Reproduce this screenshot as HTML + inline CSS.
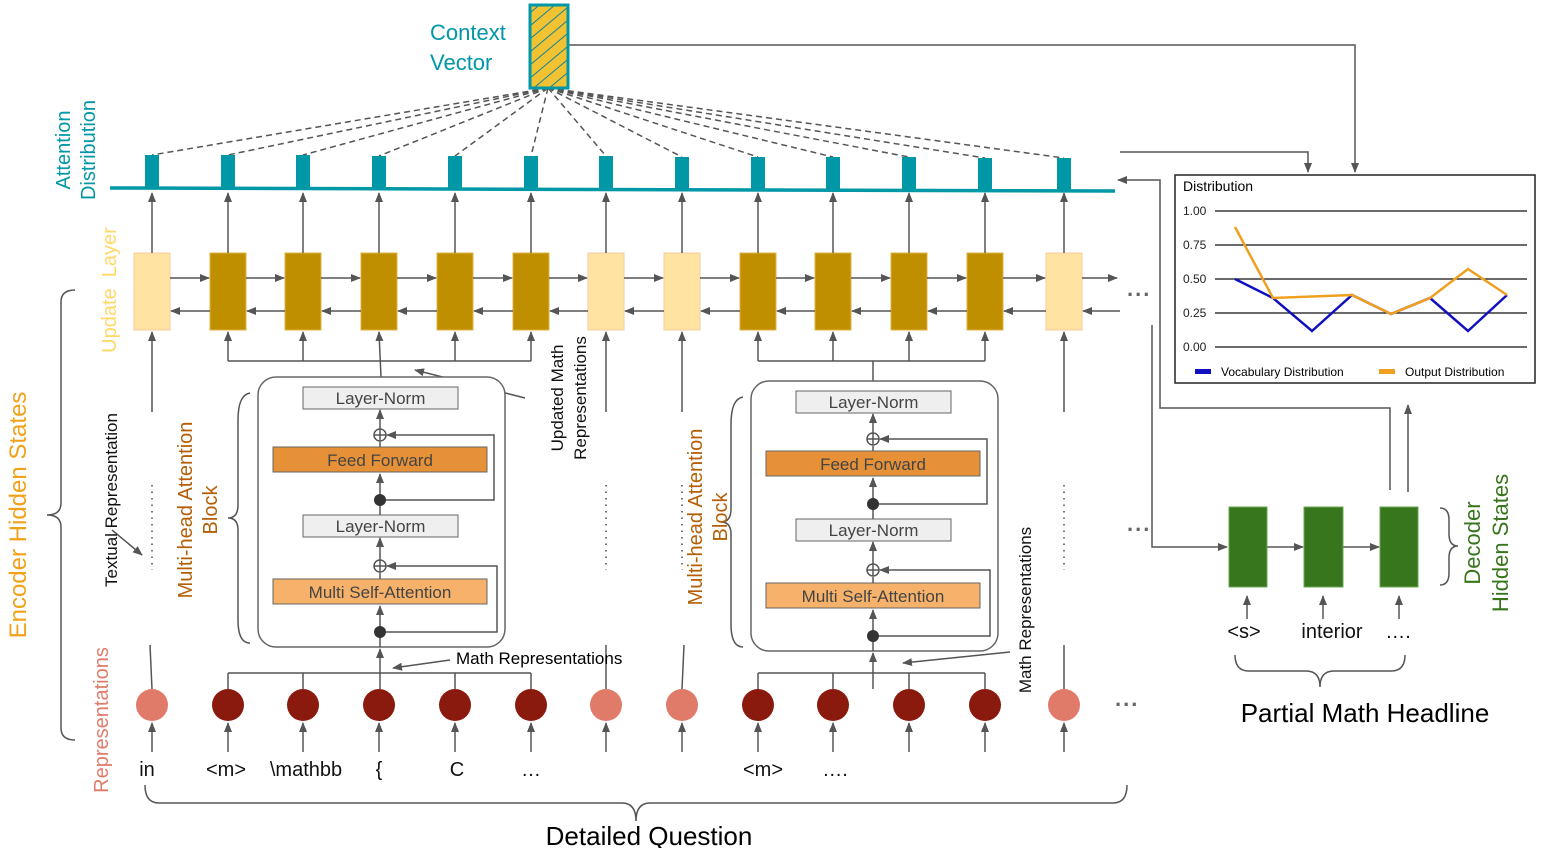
<!DOCTYPE html>
<html><head><meta charset="utf-8"><style>
html,body{margin:0;padding:0;background:#fff}
svg{display:block;font-family:"Liberation Sans",sans-serif}
</style></head><body>
<svg width="1544" height="848" viewBox="0 0 1544 848" xmlns="http://www.w3.org/2000/svg">
<defs>
<marker id="a" markerWidth="10" markerHeight="10" refX="9" refY="5" orient="auto" markerUnits="userSpaceOnUse"><path d="M0,1 L10,5 L0,9 z" fill="#555"/></marker>
<pattern id="h" width="10" height="10" patternUnits="userSpaceOnUse" patternTransform="rotate(-40)"><rect width="10" height="10" fill="#F1C232"/><line x1="0" y1="0" x2="10" y2="0" stroke="#138496" stroke-width="2"/></pattern>
</defs>
<!-- dashed -->
<g stroke="#555" stroke-width="1.5" stroke-dasharray="6,4">
<line x1="548" y1="88" x2="152" y2="155"/><line x1="548" y1="88" x2="228" y2="155"/><line x1="548" y1="88" x2="303" y2="155"/><line x1="548" y1="88" x2="379" y2="156"/><line x1="548" y1="88" x2="455" y2="156"/><line x1="548" y1="88" x2="531" y2="156"/><line x1="548" y1="88" x2="606" y2="156"/><line x1="548" y1="88" x2="682" y2="157"/><line x1="548" y1="88" x2="758" y2="157"/><line x1="548" y1="88" x2="833" y2="157"/><line x1="548" y1="88" x2="909" y2="157"/><line x1="548" y1="88" x2="985" y2="158"/><line x1="548" y1="88" x2="1064" y2="158"/>
</g>
<!-- attention bars -->
<g fill="#0097A7">
<rect x="145" y="155" width="14" height="34"/><rect x="221" y="155" width="14" height="34"/><rect x="296" y="155" width="14" height="34"/><rect x="372" y="156" width="14" height="33"/><rect x="448" y="156" width="14" height="33"/><rect x="524" y="156" width="14" height="33"/><rect x="599" y="156" width="14" height="34"/><rect x="675" y="157" width="14" height="33"/><rect x="751" y="157" width="14" height="33"/><rect x="826" y="157" width="14" height="33"/><rect x="902" y="157" width="14" height="33"/><rect x="978" y="158" width="14" height="33"/><rect x="1057" y="158" width="14" height="33"/>
</g>
<line x1="110" y1="188" x2="1115" y2="191" stroke="#0097A7" stroke-width="3.5"/>
<!-- update boxes -->
<g stroke-width="1">
<rect x="134" y="253" width="36" height="77" fill="#FFE3A3" stroke="#F9CB9C"/>
<rect x="210" y="253" width="36" height="77" fill="#BF8F00" stroke="#E0B040"/>
<rect x="285" y="253" width="36" height="77" fill="#BF8F00" stroke="#E0B040"/>
<rect x="361" y="253" width="36" height="77" fill="#BF8F00" stroke="#E0B040"/>
<rect x="437" y="253" width="36" height="77" fill="#BF8F00" stroke="#E0B040"/>
<rect x="513" y="253" width="36" height="77" fill="#BF8F00" stroke="#E0B040"/>
<rect x="588" y="253" width="36" height="77" fill="#FFE3A3" stroke="#F9CB9C"/>
<rect x="664" y="253" width="36" height="77" fill="#FFE3A3" stroke="#F9CB9C"/>
<rect x="740" y="253" width="36" height="77" fill="#BF8F00" stroke="#E0B040"/>
<rect x="815" y="253" width="36" height="77" fill="#BF8F00" stroke="#E0B040"/>
<rect x="891" y="253" width="36" height="77" fill="#BF8F00" stroke="#E0B040"/>
<rect x="967" y="253" width="36" height="77" fill="#BF8F00" stroke="#E0B040"/>
<rect x="1046" y="253" width="36" height="77" fill="#FFE3A3" stroke="#F9CB9C"/>
</g>
<!-- circles -->
<g>
<circle cx="152" cy="705" r="16" fill="#E07B6A"/><circle cx="228" cy="705" r="16" fill="#8B1A0E"/><circle cx="303" cy="705" r="16" fill="#8B1A0E"/><circle cx="379" cy="705" r="16" fill="#8B1A0E"/><circle cx="455" cy="705" r="16" fill="#8B1A0E"/><circle cx="531" cy="705" r="16" fill="#8B1A0E"/><circle cx="606" cy="705" r="16" fill="#E07B6A"/><circle cx="682" cy="705" r="16" fill="#E07B6A"/><circle cx="758" cy="705" r="16" fill="#8B1A0E"/><circle cx="833" cy="705" r="16" fill="#8B1A0E"/><circle cx="909" cy="705" r="16" fill="#8B1A0E"/><circle cx="985" cy="705" r="16" fill="#8B1A0E"/><circle cx="1064" cy="705" r="16" fill="#E07B6A"/>
</g>
<!-- arrows with markers -->
<g stroke="#555" stroke-width="1.5" fill="none" marker-end="url(#a)">
<line x1="152" y1="253" x2="152" y2="193"/><line x1="228" y1="253" x2="228" y2="193"/><line x1="303" y1="253" x2="303" y2="193"/><line x1="379" y1="253" x2="379" y2="193"/><line x1="455" y1="253" x2="455" y2="193"/><line x1="531" y1="253" x2="531" y2="193"/><line x1="606" y1="253" x2="606" y2="193"/><line x1="682" y1="253" x2="682" y2="193"/><line x1="758" y1="253" x2="758" y2="193"/><line x1="833" y1="253" x2="833" y2="193"/><line x1="909" y1="253" x2="909" y2="193"/><line x1="985" y1="253" x2="985" y2="193"/><line x1="1064" y1="253" x2="1064" y2="193"/>
<line x1="170" y1="278" x2="209" y2="278"/><line x1="246" y1="278" x2="284" y2="278"/><line x1="321" y1="278" x2="360" y2="278"/><line x1="397" y1="278" x2="436" y2="278"/><line x1="473" y1="278" x2="512" y2="278"/><line x1="549" y1="278" x2="587" y2="278"/><line x1="624" y1="278" x2="663" y2="278"/><line x1="700" y1="278" x2="739" y2="278"/><line x1="776" y1="278" x2="814" y2="278"/><line x1="851" y1="278" x2="890" y2="278"/><line x1="927" y1="278" x2="966" y2="278"/><line x1="1003" y1="278" x2="1045" y2="278"/><line x1="1082" y1="278" x2="1117" y2="278"/>
<line x1="210" y1="311" x2="171" y2="311"/><line x1="285" y1="311" x2="247" y2="311"/><line x1="361" y1="311" x2="322" y2="311"/><line x1="437" y1="311" x2="398" y2="311"/><line x1="513" y1="311" x2="474" y2="311"/><line x1="588" y1="311" x2="550" y2="311"/><line x1="664" y1="311" x2="625" y2="311"/><line x1="740" y1="311" x2="701" y2="311"/><line x1="815" y1="311" x2="777" y2="311"/><line x1="891" y1="311" x2="852" y2="311"/><line x1="967" y1="311" x2="928" y2="311"/><line x1="1046" y1="311" x2="1004" y2="311"/><line x1="1120" y1="311" x2="1083" y2="311"/>
<line x1="152" y1="752" x2="152" y2="723"/><line x1="228" y1="752" x2="228" y2="723"/><line x1="303" y1="752" x2="303" y2="723"/><line x1="379" y1="752" x2="379" y2="723"/><line x1="455" y1="752" x2="455" y2="723"/><line x1="531" y1="752" x2="531" y2="723"/><line x1="606" y1="752" x2="606" y2="723"/><line x1="682" y1="752" x2="682" y2="723"/><line x1="758" y1="752" x2="758" y2="723"/><line x1="833" y1="752" x2="833" y2="723"/><line x1="909" y1="752" x2="909" y2="723"/><line x1="985" y1="752" x2="985" y2="723"/><line x1="1064" y1="752" x2="1064" y2="723"/>
<line x1="152" y1="412" x2="152" y2="332"/><line x1="606" y1="412" x2="606" y2="332"/><line x1="682" y1="412" x2="682" y2="332"/><line x1="1064" y1="412" x2="1064" y2="332"/>
<line x1="228" y1="361" x2="228" y2="332"/><line x1="303" y1="361" x2="303" y2="332"/><line x1="455" y1="361" x2="455" y2="332"/><line x1="531" y1="361" x2="531" y2="332"/><line x1="381" y1="377" x2="379" y2="332"/>
<line x1="758" y1="361" x2="758" y2="332"/><line x1="833" y1="361" x2="833" y2="332"/><line x1="909" y1="361" x2="909" y2="332"/><line x1="985" y1="361" x2="985" y2="332"/>
<line x1="380" y1="689" x2="380" y2="649"/><line x1="873" y1="689" x2="873" y2="653"/>
<line x1="525" y1="398" x2="415" y2="370"/><line x1="450" y1="660" x2="393" y2="668"/><line x1="1010" y1="652" x2="903" y2="663"/>
<line x1="112" y1="530" x2="142" y2="555"/>
<polyline points="568,45 1355,45 1355,172"/><polyline points="1120,152 1308,152 1308,172"/>
<polyline points="1390,490 1390,408 1160,408 1160,180 1118,180"/>
<line x1="1408" y1="492" x2="1408" y2="405"/>
<polyline points="1152,325 1152,547 1227,547"/>
<line x1="1267" y1="547" x2="1303" y2="547"/><line x1="1343" y1="547" x2="1379" y2="547"/>
<line x1="1247" y1="619" x2="1247" y2="596"/><line x1="1323" y1="619" x2="1323" y2="596"/><line x1="1399" y1="619" x2="1399" y2="596"/>
</g>
<!-- plain lines -->
<g stroke="#555" stroke-width="1.5" fill="none">
<line x1="228" y1="361" x2="531" y2="361"/><line x1="758" y1="361" x2="985" y2="361"/><line x1="873" y1="381" x2="873" y2="361"/>
<line x1="228" y1="673" x2="531" y2="673"/><line x1="758" y1="673" x2="985" y2="673"/>
<line x1="228" y1="673" x2="228" y2="689"/><line x1="303" y1="673" x2="303" y2="689"/><line x1="455" y1="673" x2="455" y2="689"/><line x1="531" y1="673" x2="531" y2="689"/>
<line x1="758" y1="673" x2="758" y2="689"/><line x1="833" y1="673" x2="833" y2="689"/><line x1="909" y1="673" x2="909" y2="689"/><line x1="985" y1="673" x2="985" y2="689"/>
<line x1="152" y1="689" x2="150" y2="645"/><line x1="606" y1="689" x2="606" y2="645"/><line x1="682" y1="689" x2="684" y2="645"/><line x1="1064" y1="689" x2="1064" y2="645"/>
<path d="M75,290 Q61,290 61,302 L61,503 Q61,515 47,515 Q61,515 61,527 L61,728 Q61,740 75,740"/>
<path d="M145,785 Q145,803 159,803 L622,803 Q636,803 636,821 Q636,803 650,803 L1113,803 Q1127,803 1127,785"/>
<path d="M1235,655 Q1235,671 1249,671 L1306,671 Q1320,671 1320,687 Q1320,671 1334,671 L1391,671 Q1405,671 1405,655"/>
<path d="M1440,508 Q1449,508 1449,520 L1449,534 Q1449,546 1458,546 Q1449,546 1449,558 L1449,573 Q1449,585 1440,585"/>
</g>
<g stroke="#777" stroke-width="2" stroke-dasharray="1.5,5">
<line x1="152" y1="485" x2="152" y2="570"/><line x1="606" y1="485" x2="606" y2="570"/><line x1="682" y1="485" x2="682" y2="570"/><line x1="1064" y1="485" x2="1064" y2="570"/>
</g>
<!-- decoder -->
<g fill="#38761D" stroke="#6AA84F"><rect x="1229" y="507" width="38" height="80"/><rect x="1304" y="507" width="39" height="80"/><rect x="1380" y="507" width="38" height="80"/></g>
<!-- context -->
<rect x="530" y="5" width="38" height="83" fill="url(#h)" stroke="#0097A7" stroke-width="3"/>
<text x="430" y="40" fill="#0097A7" font-size="22">Context</text>
<text x="430" y="70" fill="#0097A7" font-size="22">Vector</text>
<!-- blocks -->
<g id="blk">
<rect x="258" y="377" width="247" height="270" rx="18" fill="#fff" stroke="#666" stroke-width="1.5"/>
<path d="M250,393 Q238,395 238,420 L238,505 Q238,518 228,518 Q238,518 238,530 L238,620 Q238,643 250,643" fill="none" stroke="#555" stroke-width="1.5"/>
<rect x="303" y="387" width="155" height="22" fill="#EFEFEF" stroke="#666"/>
<text x="380.5" y="404" text-anchor="middle" font-size="17" fill="#444">Layer-Norm</text>
<rect x="273" y="447" width="214" height="25" fill="#E69138" stroke="#666"/>
<text x="380" y="466" text-anchor="middle" font-size="17" fill="#444">Feed Forward</text>
<rect x="303" y="515" width="155" height="22" fill="#EFEFEF" stroke="#666"/>
<text x="380.5" y="532" text-anchor="middle" font-size="17" fill="#444">Layer-Norm</text>
<rect x="273" y="579" width="214" height="25" fill="#F6B26B" stroke="#666"/>
<text x="380" y="598" text-anchor="middle" font-size="17" fill="#444">Multi Self-Attention</text>
<g stroke="#555" stroke-width="1.5" fill="none">
<line x1="380" y1="647" x2="380" y2="606" marker-end="url(#a)"/>
<line x1="380" y1="579" x2="380" y2="573"/>
<line x1="380" y1="560" x2="380" y2="538" marker-end="url(#a)"/>
<line x1="380" y1="515" x2="380" y2="474" marker-end="url(#a)"/>
<line x1="380" y1="447" x2="380" y2="442"/>
<line x1="380" y1="429" x2="380" y2="410" marker-end="url(#a)"/>
<circle cx="380" cy="566" r="6"/><line x1="374" y1="566" x2="386" y2="566"/><line x1="380" y1="560" x2="380" y2="572"/>
<circle cx="380" cy="435" r="6"/><line x1="374" y1="435" x2="386" y2="435"/><line x1="380" y1="429" x2="380" y2="441"/>
<polyline points="380,632 497,632 497,566 387,566" marker-end="url(#a)"/>
<polyline points="380,500 494,500 494,435 387,435" marker-end="url(#a)"/>
</g>
<circle cx="380" cy="632" r="6" fill="#333"/><circle cx="380" cy="500" r="6" fill="#333"/>
</g>
<use href="#blk" transform="translate(493,4)"/>
<!-- chart -->
<rect x="1175" y="175" width="360" height="208" fill="#fff" stroke="#222" stroke-width="1.5"/>
<text x="1183" y="191" font-size="14">Distribution</text>
<g font-size="12" fill="#222">
<text x="1183" y="215">1.00</text><text x="1183" y="249">0.75</text><text x="1183" y="283">0.50</text><text x="1183" y="317">0.25</text><text x="1183" y="351">0.00</text>
</g>
<g stroke="#111" stroke-width="1.2"><line x1="1215" y1="211" x2="1527" y2="211"/><line x1="1215" y1="245" x2="1527" y2="245"/><line x1="1215" y1="279" x2="1527" y2="279"/><line x1="1215" y1="313" x2="1527" y2="313"/><line x1="1215" y1="347" x2="1527" y2="347"/></g>
<polyline points="1235,279 1273,298 1312,331 1352,295 1391,314 1430,298 1468,331 1507,295" fill="none" stroke="#1010C0" stroke-width="2.5"/>
<polyline points="1235,227 1273,298 1352,295 1391,314 1430,298 1468,269 1507,295" fill="none" stroke="#F0A020" stroke-width="2.5"/>
<rect x="1195" y="369" width="16" height="5" fill="#1010C0"/><text x="1221" y="376" font-size="12">Vocabulary Distribution</text>
<rect x="1379" y="369" width="16" height="5" fill="#F0A020"/><text x="1405" y="376" font-size="12">Output Distribution</text>
<!-- texts -->
<g font-size="20" fill="#111" text-anchor="middle">
<text x="147" y="776">in</text><text x="226" y="776">&lt;m&gt;</text><text x="306" y="776">\mathbb</text><text x="379" y="776">{</text><text x="457" y="776">C</text><text x="531" y="776">…</text><text x="763" y="776">&lt;m&gt;</text><text x="835" y="776">….</text>
<text x="1244" y="638">&lt;s&gt;</text><text x="1332" y="638">interior</text><text x="1398" y="638">….</text>
</g>
<text x="1365" y="722" font-size="26" text-anchor="middle">Partial Math Headline</text>
<text x="649" y="845" font-size="26" text-anchor="middle">Detailed Question</text>
<text x="456" y="664" font-size="17">Math Representations</text>
<g font-size="22" fill="#666" font-weight="bold" letter-spacing="2"><text x="1127" y="296">...</text><text x="1127" y="531">...</text><text x="1115" y="706">...</text></g>
<g text-anchor="middle">
<text transform="translate(70,150) rotate(-90)" font-size="20" fill="#0097A7">Attention</text>
<text transform="translate(95,150) rotate(-90)" font-size="20" fill="#0097A7">Distribution</text>
<text transform="translate(116,290) rotate(-90)" font-size="20" fill="#FFD966" xml:space="preserve">Update  Layer</text>
<text transform="translate(26,515) rotate(-90)" font-size="24" fill="#F1A21A">Encoder Hidden States</text>
<text transform="translate(108,720) rotate(-90)" font-size="20" fill="#E07B6A">Representations</text>
<text transform="translate(117,500) rotate(-90)" font-size="17" fill="#111">Textual Representation</text>
<text transform="translate(192,510) rotate(-90)" font-size="20" fill="#B45F06">Multi-head Attention</text>
<text transform="translate(217,510) rotate(-90)" font-size="20" fill="#B45F06">Block</text>
<text transform="translate(702,517) rotate(-90)" font-size="20" fill="#B45F06">Multi-head Attention</text>
<text transform="translate(727,517) rotate(-90)" font-size="20" fill="#B45F06">Block</text>
<text transform="translate(563,398) rotate(-90)" font-size="17" fill="#111">Updated Math</text>
<text transform="translate(586,398) rotate(-90)" font-size="17" fill="#111">Representations</text>
<text transform="translate(1031,610) rotate(-90)" font-size="17" fill="#111">Math Representations</text>
<text transform="translate(1480,543) rotate(-90)" font-size="22" fill="#38761D">Decoder</text>
<text transform="translate(1508,543) rotate(-90)" font-size="22" fill="#38761D">Hidden States</text>
</g>
</svg>
</body></html>
